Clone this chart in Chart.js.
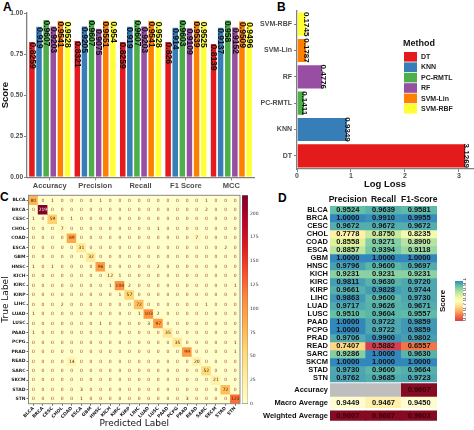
<!DOCTYPE html>
<html>
<head>
<meta charset="utf-8">
<script src="https://cdn.jsdelivr.net/npm/chart.js@4.4.0/dist/chart.umd.min.js"></script>
<style>
  html, body { margin: 0; padding: 0; background: #fff; }
  body { width: 474px; height: 430px; position: relative; overflow: hidden; font-family: "Liberation Sans", Arial, sans-serif; }
  canvas { position: absolute; }
  .tag { position: absolute; font-weight: bold; font-size: 12px; line-height: 12px; color: #000; }
</style>
</head>
<body>
<div class="tag" style="left:3px;top:1px">A</div>
<div class="tag" style="left:277px;top:1px">B</div>
<div class="tag" style="left:0px;top:191px">C</div>
<div class="tag" style="left:278px;top:192px">D</div>

<canvas id="chartA" width="256" height="192" style="left:0;top:0"></canvas>
<canvas id="chartB" width="239" height="190" style="left:235px;top:0"></canvas>
<canvas id="chartC" width="242" height="240" style="left:0;top:190px"></canvas>
<canvas id="barC" width="30" height="240" style="left:240px;top:190px"></canvas>
<canvas id="chartD" width="210" height="240" style="left:235px;top:190px"></canvas>
<canvas id="barD" width="36" height="60" style="left:438px;top:270px"></canvas>

<script>
// ---- datos ----
const methods = ['DT', 'KNN', 'PC-RMTL', 'RF', 'SVM-Lin', 'SVM-RBF'];
const metrics = ['Accuracy', 'Precision', 'Recall', 'F1 Score', 'MCC'];

// puntajes por método (orden de metrics)
const scoreDT = [0.8259, 0.8321, 0.8259, 0.826, 0.8139];
const scoreKNN = [0.919, 0.9205, 0.919, 0.914, 0.9137];
const scorePCRMTL = [0.9607, 0.9607, 0.9607, 0.9603, 0.958];
const scoreRF = [0.9203, 0.9075, 0.9203, 0.9109, 0.9152];
const scoreSVMLin = [0.9541, 0.9551, 0.9541, 0.9539, 0.9509];
const scoreSVMRBF = [0.9528, 0.954, 0.9528, 0.9525, 0.9496];
const scores = [scoreDT, scoreKNN, scorePCRMTL, scoreRF, scoreSVMLin, scoreSVMRBF];

const logLoss = [3.1269, 0.9349, 0.1411, 0.4776, 0.1787, 0.1745];
const scoreTicks = [0, 0.25, 0.5, 0.75, 1];
const logLossTicks = [0, 1, 2, 3];

const cancerTypes = ['BLCA', 'BRCA', 'CESC', 'CHOL', 'COAD', 'ESCA', 'GBM', 'HNSC', 'KICH', 'KIRC', 'KIRP',
    'LIHC', 'LUAD', 'LUSC', 'PAAD', 'PCPG', 'PRAD', 'READ', 'SARC', 'SKCM', 'STAD', 'STN'];

// matriz de confusión: filas = etiqueta real, columnas = predicha
const confusion = [
    [80,0,1,0,0,0,0,1,0,0,0,0,0,0,0,0,0,0,1,0,0,0],
    [0,219,0,0,0,0,0,0,0,0,0,0,0,0,0,0,0,0,2,0,0,0],
    [1,0,59,0,1,0,0,0,0,0,0,0,0,0,0,0,0,0,0,0,0,0],
    [0,0,0,7,0,0,0,0,0,0,0,0,0,1,0,0,0,0,0,0,0,0],
    [0,0,0,0,89,0,0,0,0,0,0,0,0,0,0,0,0,7,0,0,0,0],
    [0,0,0,0,0,31,0,0,0,0,0,0,0,0,0,0,0,0,0,0,2,0],
    [0,0,0,0,0,0,32,0,0,0,0,0,0,0,0,0,0,0,0,0,0,0],
    [1,0,1,0,0,0,0,96,0,0,0,0,0,2,0,0,0,0,0,0,0,0],
    [0,0,0,0,0,0,0,0,12,1,0,0,0,0,0,0,0,0,0,0,0,0],
    [0,0,0,0,0,0,0,0,1,104,2,0,0,0,0,0,0,0,0,0,0,1],
    [0,0,0,0,0,0,0,0,0,1,57,0,0,0,0,0,0,0,0,0,0,0],
    [0,0,0,2,0,0,0,0,0,0,0,72,0,0,0,0,0,0,1,0,0,0],
    [1,0,0,0,0,0,0,0,0,0,0,1,103,2,0,0,0,0,0,0,0,0],
    [0,0,0,0,0,0,0,1,0,0,0,0,3,97,0,0,0,0,0,0,0,0],
    [1,0,0,0,0,0,0,0,0,0,0,0,0,0,35,0,0,0,0,0,0,0],
    [0,0,0,0,0,0,0,0,0,0,0,0,0,0,0,35,0,0,0,0,0,1],
    [0,0,0,0,0,0,0,0,0,0,0,0,0,0,0,0,99,0,0,0,0,1],
    [0,0,0,0,14,0,0,0,0,0,0,0,0,0,0,0,0,20,0,0,0,0],
    [0,0,0,0,0,0,0,0,0,0,0,0,0,0,0,0,0,0,52,0,0,0],
    [0,0,0,0,0,0,0,0,0,0,0,0,0,0,0,0,0,0,0,21,0,0],
    [0,0,0,0,0,3,0,0,0,0,0,0,0,0,0,0,0,0,0,0,72,0],
    [0,0,0,0,0,1,0,0,0,0,0,0,0,0,0,0,3,0,0,0,0,123]
];
const countTicks = [0, 25, 50, 75, 100, 125, 150, 175, 200];

const reportColumns = ['Precision', 'Recall', 'F1-Score'];
const precision = [0.9524,1.0000,0.9672,0.7778,0.8558,0.8857,1.0000,0.9796,0.9231,0.9811,0.9661,
    0.9863,0.9717,0.9510,1.0000,1.0000,0.9706,0.7407,0.9286,1.0000,0.9730,0.9762];
const recall = [0.9639,0.9910,0.9672,0.8750,0.9271,0.9394,1.0000,0.9600,0.9231,0.9630,0.9828,
    0.9600,0.9626,0.9604,0.9722,0.9722,0.9900,0.5882,1.0000,1.0000,0.9600,0.9685];
const f1Score = [0.9581,0.9955,0.9672,0.8235,0.8900,0.9118,1.0000,0.9697,0.9231,0.9720,0.9744,
    0.9730,0.9671,0.9557,0.9859,0.9859,0.9802,0.6557,0.9630,1.0000,0.9664,0.9723];
const summaryLabels = ['Accuracy', 'Macro Average', 'Weighted Average'];
const accuracyRow = [null, null, 0.9607];
const macroRow = [0.9449, 0.9467, 0.9450];
const weightedRow = [0.9607, 0.9607, 0.9603];
const reportTicks = [0.6, 0.7, 0.8, 0.9, 1];

// ---- estilos ----
const methodColors = ['#E41A1C', '#377EB8', '#4DAF4A', '#984EA3', '#FF7F00', '#FFFF33'];
const ylOrRd = ['#FFFFCC', '#FFEDA0', '#FED976', '#FEB24C', '#FD8D3C', '#FC4E2A', '#E31A1C', '#BD0026', '#800026'];
const spectral = ['#D53E4F', '#F46D43', '#FDAE61', '#FEE08B', '#FFFFBF', '#E6F598', '#ABDDA4', '#66C2A5', '#3288BD'];
const summaryColors = [
    ['#BEBEBE', '#BEBEBE', '#850B22'],
    ['#FFFDCF', '#FFF1AC', '#FFFDCF'],
    ['#850B22', '#850B22', '#850B22']
];
// filas resumen (en unidades de fila) bajo las 22 filas principales
const summarySpans = [[22.2, 23.8], [23.9, 25.25], [25.6, 26.8]];
const FONT = '"Liberation Sans", Arial, sans-serif';
const SMALL = '"DejaVu Sans", sans-serif';
const axisGray = '#7f7f7f';
const noGrid = { display: false, drawTicks: false, tickLength: 0 };

function hexToRgb(h) {
    const n = parseInt(h.slice(1), 16);
    return [(n >> 16) & 255, (n >> 8) & 255, n & 255];
}

function ramp(stops, t) {
    t = Math.max(0, Math.min(1, t));
    const p = t * (stops.length - 1);
    const i = Math.min(Math.floor(p), stops.length - 2);
    const f = p - i;
    const a = hexToRgb(stops[i]), b = hexToRgb(stops[i + 1]);
    return 'rgb(' + a.map((v, k) => Math.round(v + (b[k] - v) * f)).join(',') + ')';
}

const maxCount = Math.max(...confusion.map(r => Math.max(...r)));
const countColor = v => ramp(ylOrRd, v / maxCount);
const scoreColor = v => ramp(spectral, (v - 0.6) / 0.4);

function gradientFill(stops) {
    return function(context) {
        const area = context.chart.chartArea;
        if (!area) return stops[0];
        const g = context.chart.ctx.createLinearGradient(0, area.bottom, 0, area.top);
        stops.forEach((c, i) => g.addColorStop(i / (stops.length - 1), c));
        return g;
    };
}

Chart.defaults.devicePixelRatio = 1;
Chart.defaults.animation = false;
Chart.defaults.responsive = false;
Chart.defaults.plugins.legend.display = false;
Chart.defaults.plugins.tooltip.enabled = false;

// ---- A: barras de métricas ----
const labelsA = {
    id: 'labelsA',
    afterDatasetsDraw(chart) {
        const ctx = chart.ctx;
        ctx.save();
        ctx.font = 'bold 8.5px ' + FONT;
        ctx.fillStyle = '#111';
        ctx.textAlign = 'left';
        ctx.textBaseline = 'middle';
        chart.data.datasets.forEach((ds, i) => {
            chart.getDatasetMeta(i).data.forEach((el, j) => {
                ctx.save();
                ctx.translate(el.x, el.y + 1);
                ctx.rotate(Math.PI / 2);
                ctx.fillText(String(ds.data[j]), 0, 0);
                ctx.restore();
            });
        });
        ctx.restore();
    }
};

new Chart(document.getElementById('chartA'), {
    type: 'bar',
    data: {
        labels: metrics,
        datasets: methods.map((m, i) => ({
            label: m,
            data: scores[i],
            backgroundColor: methodColors[i],
            borderColor: '#ffffff',
            borderWidth: 0.5,
            barPercentage: 0.92,
            categoryPercentage: 0.94
        }))
    },
    options: {
        layout: { padding: { top: 13, right: 2, left: 0, bottom: 0 } },
        scales: {
            x: {
                grid: { display: true, drawOnChartArea: false, offset: false, tickLength: 3, color: axisGray },
                border: { color: axisGray, width: 1.3 },
                ticks: { color: '#4d4d4d', font: { family: FONT, size: 7.5, weight: 'bold' }, padding: 1 },
                afterFit: s => { s.height = 14.7; }
            },
            y: {
                min: 0, max: 1,
                afterBuildTicks: s => { s.ticks = scoreTicks.map(v => ({ value: v })); },
                grid: { display: true, drawOnChartArea: false, tickLength: 3, color: axisGray },
                border: { color: axisGray, width: 1.3 },
                ticks: { color: '#4d4d4d', font: { family: FONT, size: 6.5, weight: 'bold' }, padding: 1,
                    callback: v => v.toFixed(2) },
                title: { display: true, text: 'Score', color: '#111', font: { family: FONT, size: 9.5, weight: 'bold' },
                    padding: { top: 0, bottom: 0 } },
                afterFit: s => { s.width = 27; }
            }
        }
    },
    plugins: [labelsA]
});

// ---- B: log loss ----
const labelsB = {
    id: 'labelsB',
    afterDatasetsDraw(chart) {
        const ctx = chart.ctx;
        const ds = chart.data.datasets[0];
        ctx.save();
        ctx.font = 'bold 8px ' + FONT;
        ctx.fillStyle = '#111';
        ctx.textAlign = 'center';
        ctx.textBaseline = 'middle';
        chart.getDatasetMeta(0).data.forEach((el, j) => {
            ctx.save();
            ctx.translate(el.x, el.y);
            ctx.rotate(Math.PI / 2);
            ctx.fillText(ds.data[j].toFixed(4), 0, 0);
            ctx.restore();
        });
        // leyenda "Method"
        ctx.textAlign = 'left';
        ctx.font = 'bold 9px ' + FONT;
        ctx.fillText('Method', 168, 44);
        ctx.font = 'bold 7px ' + FONT;
        methods.forEach((m, i) => {
            const y = 52 + i * 10.4;
            ctx.fillStyle = methodColors[i];
            ctx.fillRect(169, y, 13, 9.6);
            ctx.fillStyle = '#222';
            ctx.fillText(m, 186, y + 5);
        });
        ctx.restore();
    }
};

new Chart(document.getElementById('chartB'), {
    type: 'bar',
    data: {
        labels: methods,
        datasets: [{
            data: logLoss,
            backgroundColor: methodColors,
            borderColor: '#ffffff',
            borderWidth: 0.5,
            barPercentage: 0.92,
            categoryPercentage: 1
        }]
    },
    options: {
        indexAxis: 'y',
        layout: { padding: { top: 11, right: 1, left: 0, bottom: 0 } },
        scales: {
            x: {
                min: 0, max: 3.26,
                afterBuildTicks: s => { s.ticks = logLossTicks.map(v => ({ value: v })); },
                grid: { display: true, drawOnChartArea: false, tickLength: 3, color: axisGray },
                border: { color: axisGray, width: 1.3 },
                ticks: { color: '#4d4d4d', font: { family: FONT, size: 7, weight: 'bold' }, padding: 0 },
                title: { display: true, text: 'Log Loss', color: '#111', font: { family: FONT, size: 9.5, weight: 'bold' },
                    padding: { top: 0, bottom: 0 } },
                afterFit: s => { s.height = 21; }
            },
            y: {
                reverse: true,
                grid: { display: true, drawOnChartArea: false, offset: false, tickLength: 3, color: axisGray },
                border: { color: axisGray, width: 1.3 },
                ticks: { color: '#4d4d4d', font: { family: FONT, size: 7, weight: 'bold' }, padding: 2 },
                afterFit: s => { s.width = 62; }
            }
        }
    },
    plugins: [labelsB]
});

// ---- C: matriz de confusión ----
const cellsC = {
    id: 'cellsC',
    beforeDatasetsDraw(chart) {
        const a = chart.chartArea;
        chart.ctx.save();
        chart.ctx.fillStyle = countColor(0);
        chart.ctx.fillRect(a.left, a.top, a.right - a.left, a.bottom - a.top);
        chart.ctx.restore();
    },
    afterDatasetsDraw(chart) {
        const ctx = chart.ctx;
        const a = chart.chartArea;
        ctx.save();
        ctx.font = '4.5px ' + SMALL;
        ctx.textAlign = 'center';
        ctx.textBaseline = 'middle';
        confusion.forEach((row, r) => {
            chart.getDatasetMeta(r).data.forEach((el, c) => {
                const v = row[c];
                ctx.fillStyle = v > 150 ? '#ffffff' : (v > 0 ? '#5a1a00' : '#a8402c');
                ctx.fillText(String(v), el.x, (el.y + el.base) / 2 + 0.3);
            });
        });
        ctx.strokeStyle = '#8a8a8a';
        ctx.lineWidth = 1;
        ctx.strokeRect(a.left, a.top, a.right - a.left, a.bottom - a.top);
        ctx.restore();
    }
};

new Chart(document.getElementById('chartC'), {
    type: 'bar',
    data: {
        labels: cancerTypes,
        datasets: confusion.map((row, r) => ({
            data: row.map(() => [r, r + 1]),
            backgroundColor: row.map(countColor),
            borderWidth: 0,
            barPercentage: 1,
            categoryPercentage: 1,
            grouped: false
        }))
    },
    options: {
        layout: { padding: { top: 5.3, right: 2, left: 0, bottom: 0 } },
        scales: {
            x: {
                grid: { display: true, drawOnChartArea: false, offset: false, tickLength: 2, color: '#666' },
                border: { display: false },
                ticks: { color: '#222', font: { family: SMALL, size: 4.5, weight: 'bold' }, padding: 0,
                    minRotation: 45, maxRotation: 45, autoSkip: false },
                title: { display: true, text: 'Predicted Label', color: '#111', font: { family: SMALL, size: 9 },
                    padding: { top: 0, bottom: 1 } },
                afterFit: s => { s.height = 26.3; }
            },
            y: {
                min: 0, max: cancerTypes.length, reverse: true,
                afterBuildTicks: s => { s.ticks = cancerTypes.map((_, i) => ({ value: i + 0.5 })); },
                grid: { display: true, drawOnChartArea: false, tickLength: 2, color: '#666' },
                border: { display: false },
                ticks: { color: '#222', font: { family: SMALL, size: 4.5, weight: 'bold' }, padding: 1,
                    autoSkip: false, callback: (v, i) => cancerTypes[i] },
                title: { display: true, text: 'True Label', color: '#111', font: { family: SMALL, size: 9 },
                    padding: { top: 0, bottom: 0 } },
                afterFit: s => { s.width = 28.5; }
            }
        }
    },
    plugins: [cellsC]
});

// barra de color de C
new Chart(document.getElementById('barC'), {
    type: 'bar',
    data: {
        labels: [''],
        datasets: [{
            data: [[0, maxCount]],
            backgroundColor: gradientFill(ylOrRd),
            borderColor: '#555',
            borderWidth: 0.6,
            borderSkipped: false,
            barPercentage: 1,
            categoryPercentage: 1
        }]
    },
    options: {
        layout: { padding: { top: 5.3, right: 0, left: 2, bottom: 26.3 } },
        scales: {
            x: { display: false },
            y: {
                position: 'right',
                min: 0, max: maxCount,
                afterBuildTicks: s => { s.ticks = countTicks.map(v => ({ value: v })); },
                grid: noGrid,
                border: { display: false },
                ticks: { color: '#333', font: { family: SMALL, size: 4.5 }, padding: 2, autoSkip: false },
                afterFit: s => { s.width = 22; }
            }
        }
    }
});

// ---- D: reporte de clasificación ----
const reportRows = cancerTypes.map((_, i) => [precision[i], recall[i], f1Score[i]]);
const summaryRows = [accuracyRow, macroRow, weightedRow];
const rowLabelsD = cancerTypes.concat(summaryLabels);

const datasetsD = reportRows.map((vals, i) => ({
    data: vals.map(() => [i, i + 1]),
    values: vals,
    backgroundColor: vals.map(scoreColor),
    textColor: '#111'
})).concat(summaryRows.map((vals, k) => ({
    data: vals.map(() => summarySpans[k]),
    values: vals,
    backgroundColor: summaryColors[k],
    textColor: k === 1 ? '#111' : '#3a0008'
})));

const cellsD = {
    id: 'cellsD',
    afterDatasetsDraw(chart) {
        const ctx = chart.ctx;
        ctx.save();
        ctx.font = 'bold 7.5px ' + FONT;
        ctx.textAlign = 'center';
        ctx.textBaseline = 'middle';
        chart.data.datasets.forEach((ds, r) => {
            chart.getDatasetMeta(r).data.forEach((el, c) => {
                const v = ds.values[c];
                if (v === null) return;
                ctx.fillStyle = ds.textColor;
                ctx.fillText(v.toFixed(4), el.x, (el.y + el.base) / 2 + 0.3);
            });
        });
        ctx.restore();
    }
};

new Chart(document.getElementById('chartD'), {
    type: 'bar',
    data: {
        labels: reportColumns,
        datasets: datasetsD.map(ds => Object.assign(ds, {
            borderWidth: 0, barPercentage: 1, categoryPercentage: 1, grouped: false
        }))
    },
    options: {
        layout: { padding: { top: 0, right: 8, left: 0, bottom: 0 } },
        scales: {
            x: {
                position: 'top',
                grid: noGrid,
                border: { display: false },
                ticks: { color: '#111', font: { family: FONT, size: 8.5, weight: 'bold' }, padding: 1,
                    minRotation: 0, maxRotation: 0, autoSkip: false },
                afterFit: s => { s.height = 16; }
            },
            y: {
                min: 0, max: 27.2, reverse: true,
                afterBuildTicks: s => {
                    const centers = cancerTypes.map((_, i) => i + 0.5)
                        .concat(summarySpans.map(sp => (sp[0] + sp[1]) / 2));
                    s.ticks = centers.map(v => ({ value: v }));
                },
                grid: noGrid,
                border: { display: false },
                ticks: { color: '#111', font: { family: FONT, size: 7.5, weight: 'bold' }, padding: 2,
                    autoSkip: false, callback: (v, i) => rowLabelsD[i] },
                afterFit: s => { s.width = 95; }
            }
        }
    },
    plugins: [cellsD]
});

// barra de color de D
new Chart(document.getElementById('barD'), {
    type: 'bar',
    data: {
        labels: [''],
        datasets: [{
            data: [[0.6, 1]],
            backgroundColor: gradientFill(spectral),
            borderWidth: 0,
            barPercentage: 1,
            categoryPercentage: 1,
            yAxisID: 'y'
        }]
    },
    options: {
        layout: { padding: { top: 11, right: 0, left: 0, bottom: 9 } },
        scales: {
            x: { display: false },
            y: {
                position: 'right',
                min: 0.6, max: 1,
                afterBuildTicks: s => { s.ticks = reportTicks.map(v => ({ value: v })); },
                grid: noGrid,
                border: { display: false },
                ticks: { color: '#333', font: { family: FONT, size: 6 }, padding: 1,
                    minRotation: 90, maxRotation: 90, autoSkip: false,
                    callback: v => (v === 1 ? '1' : v.toFixed(1)) },
                afterFit: s => { s.width = 11; }
            },
            yTitle: {
                position: 'left',
                grid: noGrid,
                border: { display: false },
                ticks: { display: false },
                title: { display: true, text: 'Score', color: '#111', font: { family: FONT, size: 8, weight: 'bold' },
                    padding: { top: 0, bottom: 2 } },
                afterFit: s => { s.width = 17; }
            }
        }
    }
});
</script>
</body>
</html>
